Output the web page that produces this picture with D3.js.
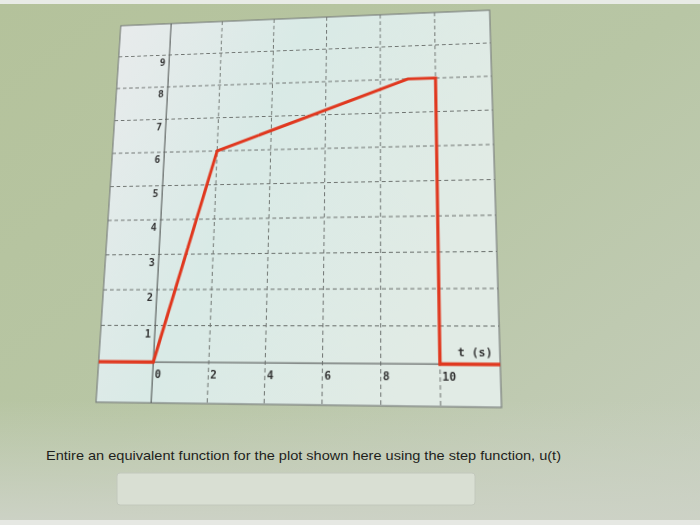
<!DOCTYPE html>
<html><head><meta charset="utf-8">
<script src="https://cdn.jsdelivr.net/npm/d3@7"></script>
<style>
html,body{margin:0;padding:0;overflow:hidden;background:#b9c5a6;width:700px;height:525px}
#bgwrap{position:absolute;left:0;top:0}
#plotwrap{position:absolute;left:0;top:0;width:700px;height:525px;transform-origin:0 0 0}
</style>
</head><body>
<div id="bgwrap"></div>
<div id="plotwrap"></div>
<script>
// data
const tValues = [-2, 0, 2, 9, 10, 10, 12];
const uValues = [0, 0, 6, 8, 8, 0, 0];
const xTicks = [0, 2, 4, 6, 8, 10];
const yTicks = [1, 2, 3, 4, 5, 6, 7, 8, 9];
const tDomain = [-2, 12];
const uDomain = [-1.1, 10];
const xLabel = "t (s)";
const question = "Entire an equivalent function for the plot shown here using the step function, u(t)";

const W = 700, H = 525;

// ---------- background and question (flat) ----------
const bsvg = d3.select("#bgwrap").append("svg").attr("width", W).attr("height", H);
const defs = bsvg.append("defs");
const bg = defs.append("linearGradient").attr("id", "bg").attr("x1", 0).attr("y1", 0).attr("x2", 1).attr("y2", 1);
bg.append("stop").attr("offset", 0).attr("stop-color", "#b4c29b");
bg.append("stop").attr("offset", 0.5).attr("stop-color", "#b8c6a5");
bg.append("stop").attr("offset", 1).attr("stop-color", "#c6cebd");
bsvg.append("rect").attr("width", W).attr("height", H).attr("fill", "url(#bg)");
const bg2 = defs.append("linearGradient").attr("id", "bg2").attr("x1", 0).attr("y1", 0).attr("x2", 0).attr("y2", 1);
bg2.append("stop").attr("offset", 0).attr("stop-color", "#cbd2c4").attr("stop-opacity", 0);
bg2.append("stop").attr("offset", 1).attr("stop-color", "#cdd2c6").attr("stop-opacity", 1);
bsvg.append("rect").attr("y", 400).attr("width", W).attr("height", 125).attr("fill", "url(#bg2)");
bsvg.append("rect").attr("width", W).attr("height", 4).attr("fill", "#e8ebe6");
bsvg.append("rect").attr("y", 520).attr("width", W).attr("height", 5).attr("fill", "#e6e8e3");
bsvg.append("text").attr("x", 46).attr("y", 460)
  .attr("font-family", "Liberation Sans, Arial, sans-serif").attr("font-size", 13)
  .attr("textLength", 515).attr("lengthAdjust", "spacingAndGlyphs")
  .attr("fill", "#1e1f1c").text(question);
bsvg.append("rect").attr("x", 117).attr("y", 473).attr("width", 358).attr("height", 32).attr("rx", 3)
  .attr("fill", "#d9dfd3").attr("stroke", "#c2c8bc").attr("stroke-width", 1);

// ---------- plot (flat frame, then perspective-warped like the photo) ----------
const L = 97, R = 497, T = 20, B = 403;
const x = d3.scaleLinear().domain(tDomain).range([L, R]);
const y = d3.scaleLinear().domain(uDomain).range([B, T]);

const svg = d3.select("#plotwrap").append("svg").attr("width", W).attr("height", H).style("overflow", "visible");
const pdefs = svg.append("defs");
const pg = pdefs.append("linearGradient").attr("id", "pg").attr("x1", 0).attr("y1", 0).attr("x2", 1).attr("y2", 0.4);
pg.append("stop").attr("offset", 0).attr("stop-color", "#e8ebec");
pg.append("stop").attr("offset", 0.45).attr("stop-color", "#d9eae6");
pg.append("stop").attr("offset", 1).attr("stop-color", "#e1ebe5");
svg.append("rect").attr("x", L).attr("y", T).attr("width", R - L).attr("height", B - T)
  .attr("fill", "url(#pg)").attr("stroke", "#7a7f7d").attr("stroke-width", 1.2);

const g = svg.append("g");
g.selectAll(".vg").data(xTicks.filter(d => d !== 0)).join("line")
  .attr("x1", d => x(d)).attr("x2", d => x(d)).attr("y1", T).attr("y2", B)
  .attr("stroke", "#6e7370").attr("stroke-width", 1).attr("stroke-dasharray", "4,3");
g.selectAll(".hg").data(yTicks).join("line")
  .attr("x1", L).attr("x2", R).attr("y1", d => y(d)).attr("y2", d => y(d))
  .attr("stroke", "#6e7370").attr("stroke-width", 1).attr("stroke-dasharray", "4,3");
g.append("line").attr("x1", x(0)).attr("x2", x(0)).attr("y1", T).attr("y2", B)
  .attr("stroke", "#5a5e5c").attr("stroke-width", 1.2);
g.append("line").attr("x1", L).attr("x2", R).attr("y1", y(0)).attr("y2", y(0))
  .attr("stroke", "#6a6e6c").attr("stroke-width", 1.2);

g.selectAll(".yl").data(yTicks).join("text")
  .attr("x", x(0) - 4).attr("y", d => y(d) + 11).attr("text-anchor", "end")
  .attr("font-family", "DejaVu Sans Mono").attr("font-weight", "bold").attr("font-size", 10.5)
  .attr("fill", "#333").text(d => d);
g.selectAll(".xl").data(xTicks).join("text")
  .attr("x", d => x(d) + 2).attr("y", y(0) + 15)
  .attr("font-family", "DejaVu Sans Mono").attr("font-weight", "bold").attr("font-size", 11)
  .attr("fill", "#333").text(d => d);
g.append("text").attr("x", x(10.6)).attr("y", y(0) - 7)
  .attr("font-family", "DejaVu Sans Mono").attr("font-weight", "bold").attr("font-size", 11)
  .attr("fill", "#333").text(xLabel);

const line = d3.line().x((d, i) => x(tValues[i])).y((d, i) => y(uValues[i]));
g.append("path").datum(tValues).attr("d", line).attr("fill", "none")
  .attr("stroke", "#e0381f").attr("stroke-width", 3.2).attr("stroke-linejoin", "miter");

// perspective of the photographed screen: four reference points (t,u) -> where they sit in the photo
const calib = [
  { t: 0, u: 0, px: 153.3, py: 362 },
  { t: 10, u: 0, px: 440, py: 364 },
  { t: 0, u: 9, px: 169.5, py: 55 },
  { t: 10, u: 9, px: 435, py: 45 }
];
function solve(A, b) {
  const n = b.length;
  for (let i = 0; i < n; i++) {
    let p = i;
    for (let r = i + 1; r < n; r++) if (Math.abs(A[r][i]) > Math.abs(A[p][i])) p = r;
    [A[i], A[p]] = [A[p], A[i]]; [b[i], b[p]] = [b[p], b[i]];
    for (let r = i + 1; r < n; r++) {
      const f = A[r][i] / A[i][i];
      for (let c = i; c < n; c++) A[r][c] -= f * A[i][c];
      b[r] -= f * b[i];
    }
  }
  const s = new Array(n).fill(0);
  for (let i = n - 1; i >= 0; i--) {
    let v = b[i];
    for (let c = i + 1; c < n; c++) v -= A[i][c] * s[c];
    s[i] = v / A[i][i];
  }
  return s;
}
const A = [], bb = [];
calib.forEach(c => {
  const sx = x(c.t), sy = y(c.u);
  A.push([sx, sy, 1, 0, 0, 0, -sx * c.px, -sy * c.px]); bb.push(c.px);
  A.push([0, 0, 0, sx, sy, 1, -sx * c.py, -sy * c.py]); bb.push(c.py);
});
const h = solve(A, bb);
d3.select("#plotwrap").style("transform",
  `matrix3d(${h[0]},${h[3]},0,${h[6]},${h[1]},${h[4]},0,${h[7]},0,0,1,0,${h[2]},${h[5]},0,1)`);
</script>
</body></html>
